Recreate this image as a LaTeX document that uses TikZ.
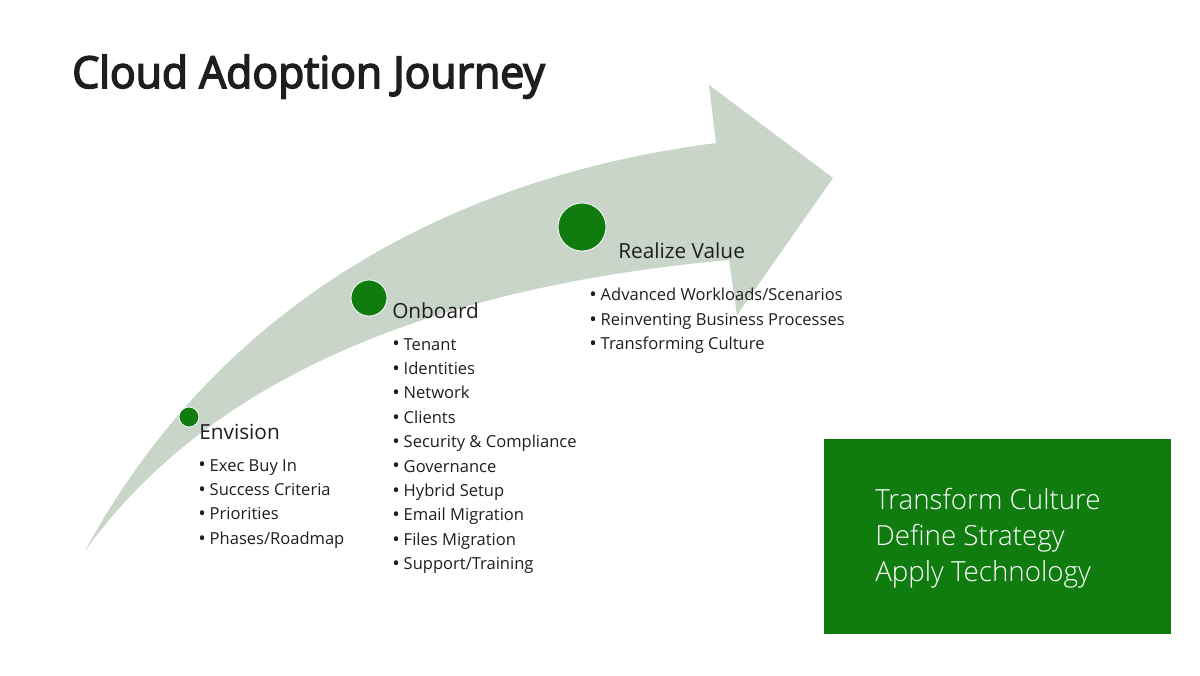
\documentclass[tikz,border=0pt]{standalone}
\usepackage{fontspec}
\setmainfont{Open Sans}
\newfontfamily\lightfont{Open Sans Light}
\newfontfamily\titlefont[FakeBold=3.5,FakeStretch=0.97]{Open Sans}
\definecolor{arrowgray}{HTML}{C9D5C9}
\definecolor{msgreen}{HTML}{107C10}
\definecolor{inkdark}{HTML}{1E1E1E}
\newcommand{\bul}{\makebox[8.6pt][l]{\fontsize{15}{15}\selectfont\raisebox{-0.6pt}{•}}}
\tikzset{
    stage/.style={anchor=base west, inner sep=0pt, text=inkdark, font=\fontsize{15.6}{18}\selectfont},
    items/.style={anchor=north west, inner sep=0pt, align=left, text=inkdark, font=\fontsize{12.4}{18.3}\selectfont},
    dot/.style={circle, fill=msgreen, draw=white, line width=0.6pt, inner sep=0pt}
}
\begin{document}
\begin{tikzpicture}[x=0.75pt,y=-0.75pt]
        \useasboundingbox (0,0) rectangle (1200,675);

        % Big curved arrow
        \fill[arrowgray] (85,551) .. controls (210,320) and (430,180) .. (716,143)
            -- (709,85) -- (833,178) -- (737,315) -- (729,260)
            .. controls (450,285) and (215,370) .. (85,551) -- cycle;

        % Title
        \node[anchor=base west, inner sep=0pt, text=inkdark, font=\titlefont\fontsize{33}{36}\selectfont] (title) at (72,88) {Cloud Adoption Journey};

        % Envision
        \node[dot, minimum size=20*0.75pt] (envisionDot) at (189,417) {};
        \node[stage] (envision) at (199,439) {Envision};
        \node[items] (envisionList) at (198,459) {\bul Exec Buy In\\ \bul Success Criteria\\ \bul Priorities\\ \bul Phases/Roadmap};

        % Onboard
        \node[dot, minimum size=36*0.75pt] (onboardDot) at (369,298) {};
        \node[stage] (onboard) at (392,318) {Onboard};
        \node[items] (onboardList) at (392,338) {\bul Tenant\\ \bul Identities\\ \bul Network\\ \bul Clients\\ \bul Security \& Compliance\\ \bul Governance\\ \bul Hybrid Setup\\ \bul Email Migration\\ \bul Files Migration\\ \bul Support/Training};

        % Realize Value
        \node[dot, minimum size=48*0.75pt] (realizeDot) at (582,227) {};
        \node[stage] (realize) at (618,258) {Realize Value};
        \node[items] (realizeList) at (589,288) {\bul Advanced Workloads/Scenarios\\ \bul Reinventing Business Processes\\ \bul Transforming Culture};

        % Green box
        \node[anchor=north west, fill=msgreen, minimum width=347*0.75pt, minimum height=195*0.75pt, inner sep=0pt] (box) at (824,439) {};
        \node[anchor=north west, inner sep=0pt, align=left, text=white, font=\lightfont\fontsize{20.8}{27}\selectfont] (boxText) at (875,488) {Transform Culture\\ Define Strategy\\ Apply Technology};
    \end{tikzpicture}
\end{document}
